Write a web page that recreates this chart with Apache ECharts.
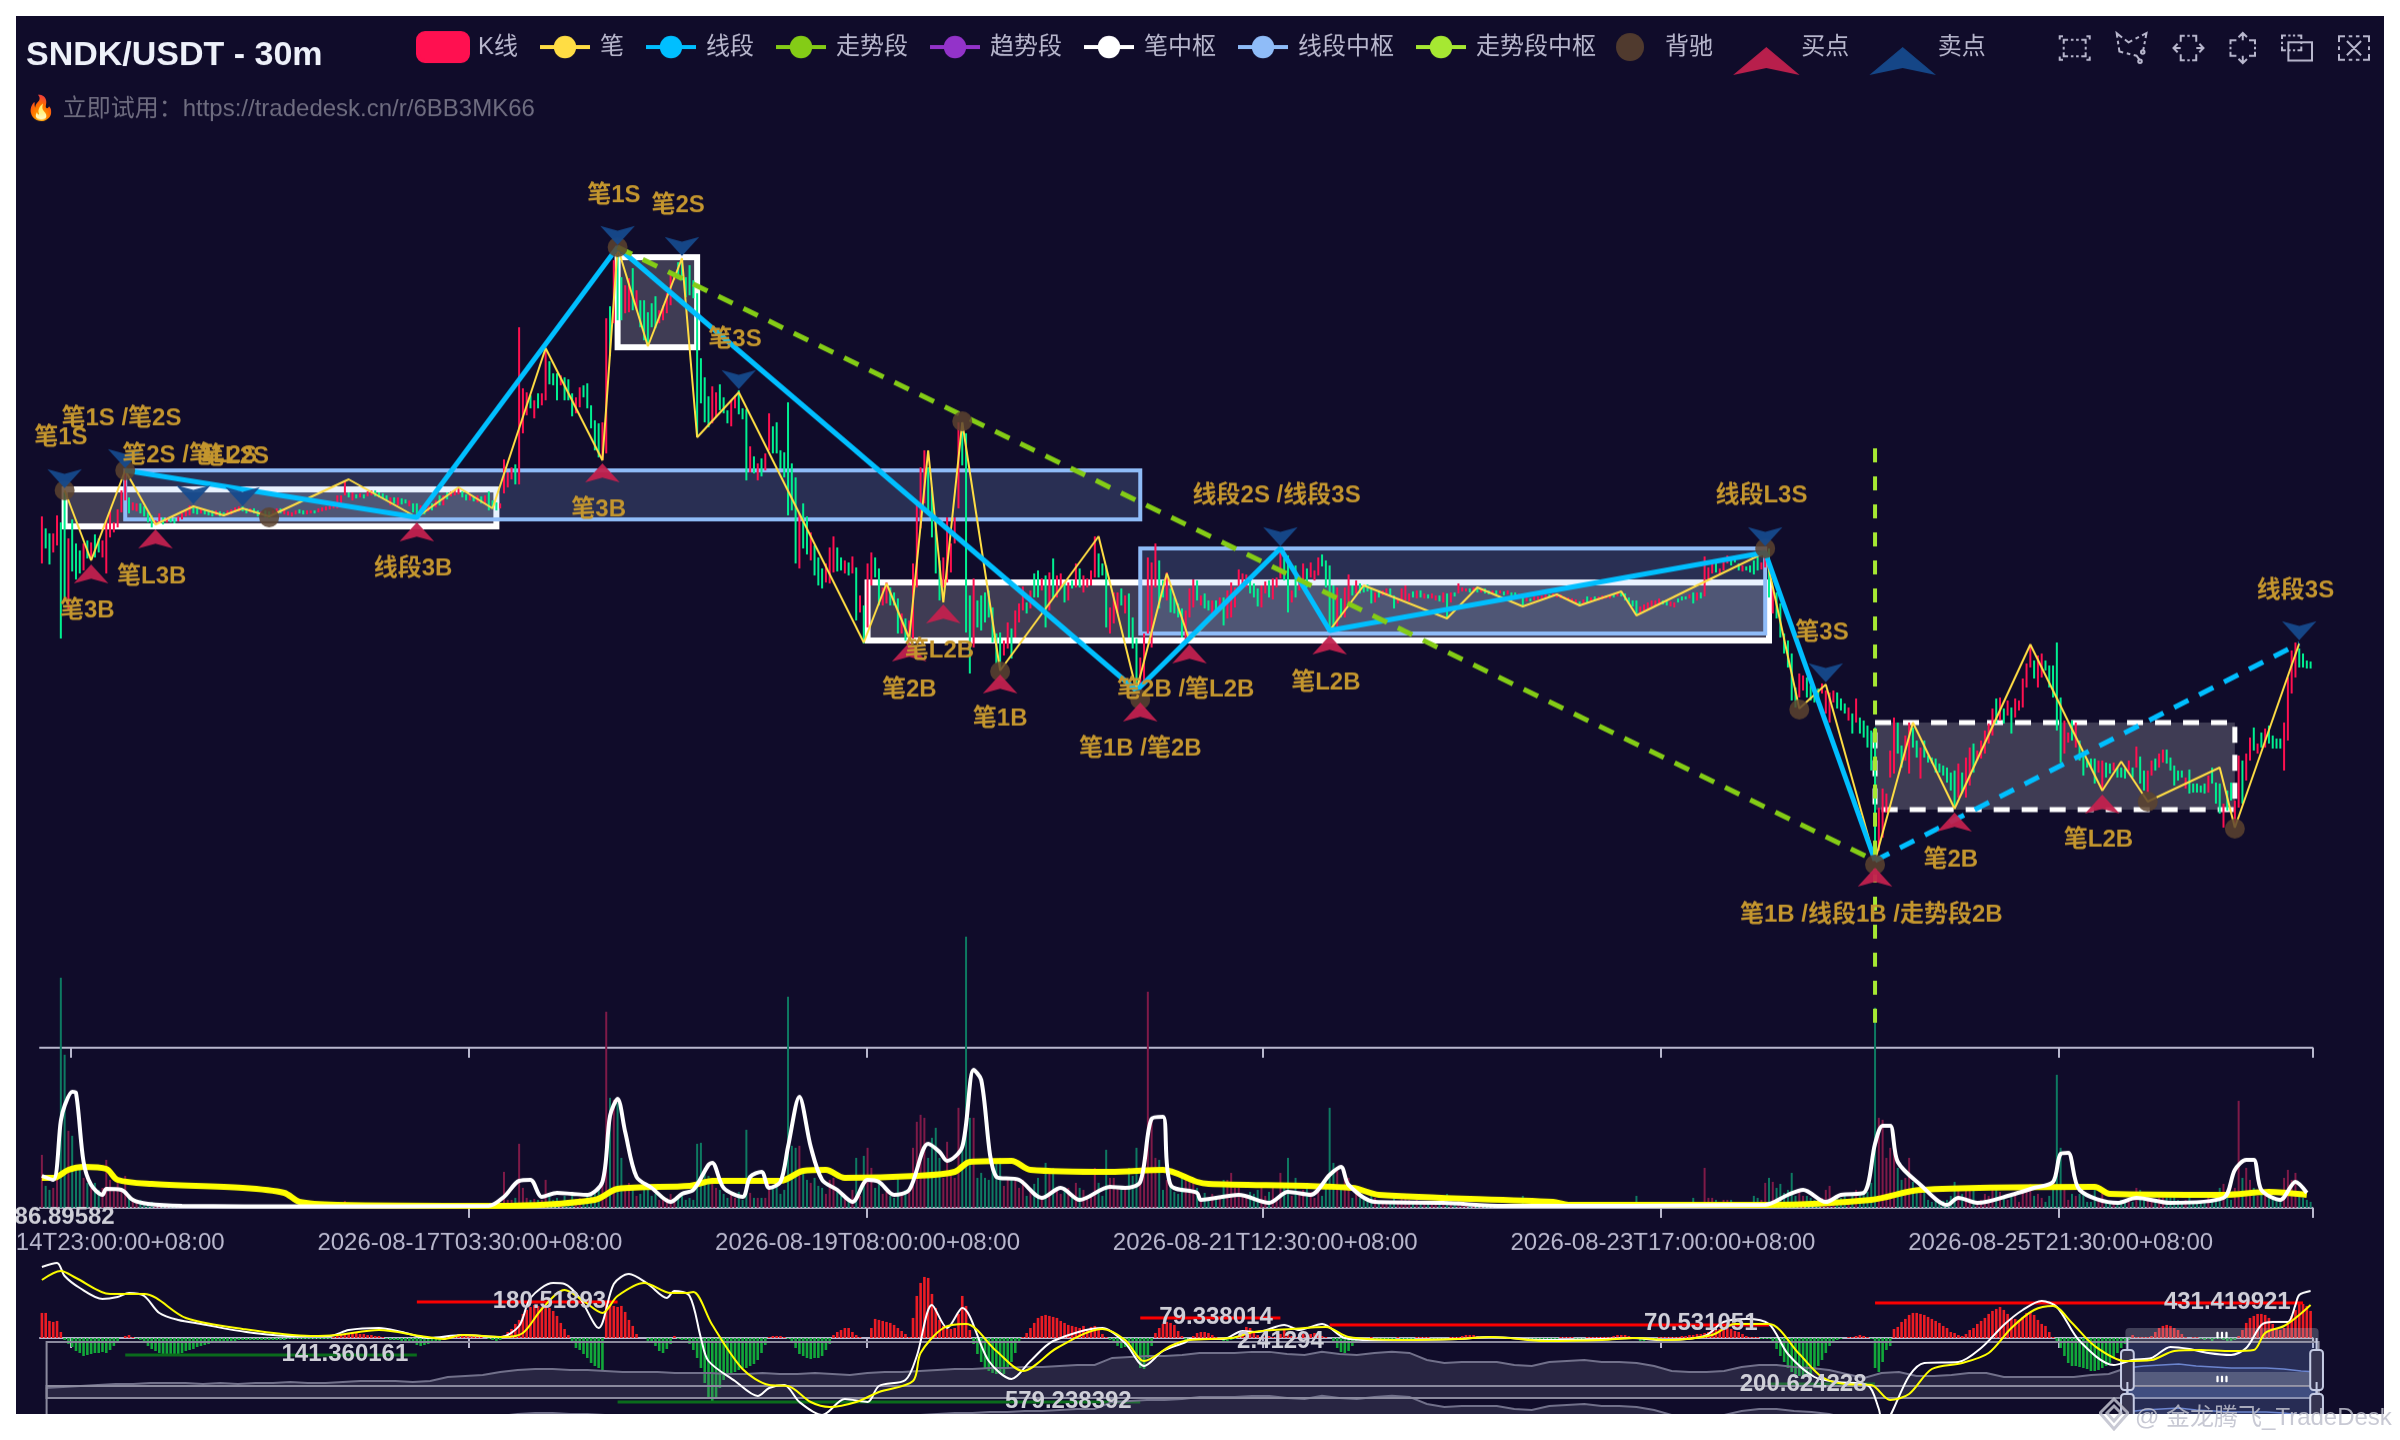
<!DOCTYPE html>
<html><head><meta charset="utf-8">
<script src="https://cdn.jsdelivr.net/npm/echarts@6/dist/echarts.min.js"></script>
<style>
html,body{margin:0;padding:0;background:#fff;width:2400px;height:1440px;overflow:hidden}
#chart{position:absolute;left:16px;top:16px;width:1184px;height:698.5px;transform:scale(2);transform-origin:0 0}
#mark{position:absolute;left:2099px;top:1397px;height:34px;display:flex;align-items:center;font:24px 'Liberation Sans','Noto Sans CJK SC',sans-serif;color:rgba(190,192,205,.85);white-space:nowrap}
#mark svg{margin-right:6px}
</style></head><body>
<div id="chart"></div>
<div id="mark"><svg width="30" height="34" viewBox="0 0 30 34"><path d="M15 2 29 16 15 32 1 16Z M15 9 22 16 15 24 8 16Z" fill="none" stroke="rgba(190,192,205,.85)" stroke-width="3"/></svg>@ 金龙腾飞_TradeDesk</div>
<script>
const titleText='SNDK/USDT - 30m';
const subText='🔥 立即试用：https://tradedesk.cn/r/6BB3MK66';
const legendNames=['K线','笔','线段','走势段','趋势段','笔中枢','线段中枢','走势段中枢','背驰','买点','卖点'];
const barCount=600, tickStart=8, tickEvery=105, firstBar=Date.UTC(2026,7,14,19,0);
const categories=Array.from({length:barCount},(_,i)=>new Date(firstBar+i*1800000).toISOString().slice(0,19)+'+08:00');

// open,close pairs, one candle per pair
const klinePairs=[
484,531,519,499,514,483,495,514,502,532,525,409,555,450,437,509,528,476,504,468,
497,474,477,504,507,489,487,505,513,490,509,495,490,507,474,527,510,537,515,525,
520,538,535,557,547,576,550,534,537,545,536,544,544,534,541,531,535,525,532,520,
523,527,524,534,530,523,525,530,531,525,529,524,526,531,528,534,531,537,532,542,
541,534,539,533,534,539,538,533,537,532,537,531,532,537,536,531,535,531,532,537,
533,538,535,540,536,541,541,536,539,534,535,539,539,534,537,531,532,536,537,530,
536,529,533,537,535,539,539,534,533,538,532,536,531,535,533,537,538,534,537,533,
533,537,534,537,537,534,535,539,536,540,537,541,538,542,539,544,539,552,544,552,
552,567,555,550,547,555,553,549,550,554,553,549,551,556,552,557,557,551,555,550,
554,549,552,547,542,550,550,544,542,550,549,543,548,544,541,547,544,535,544,529,
532,542,542,533,536,543,544,537,540,547,552,542,542,552,555,548,551,556,552,557,
553,560,556,550,553,547,547,553,551,546,545,552,551,544,544,552,556,537,547,539,
545,537,539,544,554,588,560,575,568,580,583,563,563,720,614,659,632,655,652,639,
629,647,654,639,642,654,647,699,686,663,674,662,674,647,662,672,670,647,668,647,
654,631,634,650,640,660,662,650,664,639,642,619,627,597,624,590,587,625,594,729,
741,691,724,787,800,727,770,727,734,762,735,769,779,737,737,757,747,720,747,707,
735,702,744,720,751,719,724,737,727,742,734,754,742,775,767,775,785,772,789,767,
770,750,782,752,767,749,754,610,689,644,670,625,651,620,624,661,630,655,663,637,
650,634,637,624,621,647,639,652,657,633,639,628,638,567,575,601,591,574,567,584,
589,571,577,594,597,634,621,594,625,594,597,579,595,570,645,532,584,537,570,484,
479,534,544,499,531,493,487,515,502,472,490,462,479,459,465,484,464,500,475,511,
500,476,490,477,474,487,485,472,474,491,480,427,435,452,442,404,420,484,462,495,
490,470,479,442,442,460,444,465,460,442,455,442,449,414,414,434,429,407,407,427,
409,484,460,545,519,580,544,597,580,537,560,510,529,474,487,447,460,490,465,530,
475,504,504,530,539,625,625,582,614,415,452,374,400,469,447,420,452,417,455,425,
457,430,440,405,414,384,415,377,392,407,399,425,419,389,410,437,425,444,437,461,
445,434,439,457,474,450,477,450,457,469,472,420,437,475,489,450,450,472,460,474,
465,445,447,465,467,459,460,484,479,460,455,472,460,469,462,477,470,511,494,470,
484,472,482,420,414,440,424,455,434,455,459,442,434,452,454,410,430,399,409,357,
357,390,364,414,414,490,400,485,460,504,487,439,467,450,447,475,459,435,450,434,
444,430,439,410,407,437,430,459,440,468,467,447,442,452,454,439,447,437,432,447,
447,435,440,450,450,422,429,457,430,465,440,460,457,478,459,474,460,473,470,454,
464,450,459,441,440,462,454,466,467,450,448,469,460,470,469,499,489,467,492,435,
445,457,482,450,457,472,467,484,479,460,470,485,467,477,472,490,493,481,487,460,
482,415,462,417,420,460,449,430,430,460,444,473,462,452,454,467,464,454,462,455,
463,456,460,444,445,455,457,450,452,457,452,459,459,452,452,439,444,449,447,459,
447,462,446,454,456,450,449,457,457,450,449,454,453,449,449,454,447,452,452,446,
445,455,454,429,445,455,455,451,454,464,456,460,456,459,459,455,457,460,460,455,
455,458,459,454,457,453,454,457,457,453,454,457,456,452,453,457,455,451,455,450,
451,454,454,441,446,450,449,446,447,451,448,451,449,452,450,453,453,450,451,454,
450,454,449,453,448,451,447,450,446,449,444,448,446,441,444,448,451,445,447,450,
451,447,447,451,448,452,449,452,449,453,454,450,451,455,456,451,454,447,450,443,
447,441,447,432,435,441,437,443,439,445,441,447,442,447,444,449,447,443,446,442,
441,446,440,445,449,445,451,447,451,448,449,453,455,444,447,455,455,449,451,491,
467,480,474,485,484,475,473,479,477,485,484,492,490,482,492,485,484,477,476,482,
481,477,482,475,487,473,490,477,478,485,480,492,499,450,434,460,455,429,444,410,
414,394,407,380,394,347,360,340,350,374,357,372,370,350,362,347,359,345,359,345,
354,364,334,357,325,355,345,357,355,339,349,337,344,334,327,340,334,314,325,349,
330,314,327,310,322,300,317,277,320,187,197,240,210,259,235,254,270,297,274,330,
325,294,302,280,287,312,274,325,320,300,307,290,269,300,307,290,292,285,290,284,
289,275,284,275,282,272,280,265,275,257,277,239,250,284,275,254,250,290,262,300,
304,275,287,297,289,307,294,317,304,324,312,339,349,324,327,350,339,324,332,347,
340,314,330,349,337,347,340,369,360,384,380,403,387,369,360,392,370,394,387,377,
382,360,382,350,405,317,350,285,294,327,305,315,327,307,300,325,307,287,294,272,
289,280,289,279,289,264,275,287,257,287,285,270,284,274,277,285,280,270,280,270,
279,269,277,287,280,270,280,301,291,264,277,257,255,277,272,287,289,277,280,294,
285,298,298,284,290,277,282,262,277,267,277,270,259,270,278,254,264,255,264,255,
262,255,264,254,255,272,280,264,265,244,264,234,220,244,257,237,265,247,220,247,
240,292,287,244,267,294,287,310,320,297,294,304,315,300,300,319,322,304,312,299,
309,299,309,299,277,325,307,370,354,397,370,405,399,380,394,380,387,379,386,379];
const opens=klinePairs.filter((_,i)=>i%2===0);
const closes=klinePairs.filter((_,i)=>i%2===1);

const volumes=[
53,22,18,20,28,230,153,77,72,40,42,30,25,20,25,18,20,48,28,20,
25,18,32,12,10,8,8,6,6,6,5,5,4,3,3,3,3,3,3,3,
3,2,2,2,2,2,2,2,2,2,2,2,2,2,2,2,2,2,2,2,
2,2,2,2,2,2,2,2,1,1,1,1,1,1,1,2,2,3,6,4,
7,3,3,2,2,2,2,2,2,2,2,2,3,2,2,2,2,3,4,5,
3,3,3,2,3,3,3,2,2,2,3,2,2,2,2,2,2,2,5,3,
3,3,36,8,8,10,64,20,10,8,9,8,8,28,14,8,10,6,12,8,
12,9,10,6,12,14,16,20,30,196,110,108,105,50,20,25,22,12,14,20,
18,12,14,8,8,10,14,6,10,12,8,10,8,64,65,40,32,24,20,18,
14,10,15,10,16,8,78,15,10,10,10,10,30,20,25,14,18,211,62,60,
62,36,28,25,30,22,20,14,28,30,16,12,10,10,18,50,12,52,60,40,
20,32,14,16,12,10,30,14,18,15,60,86,93,90,50,70,80,50,30,66,
32,30,100,60,271,90,90,30,35,30,28,48,45,50,22,30,30,27,20,28,
12,20,24,30,12,45,38,40,20,14,18,20,10,25,20,18,10,14,40,25,
12,58,30,30,22,18,20,40,32,60,30,50,216,90,50,48,18,28,24,16,
14,30,28,30,28,20,10,15,10,14,12,10,28,28,35,20,20,14,12,16,
14,18,22,12,16,22,10,35,20,50,12,30,15,18,20,16,10,18,12,26,
100,45,40,20,30,30,10,14,10,8,8,16,10,7,5,6,6,14,5,12,
14,8,6,8,6,5,4,5,5,5,8,14,8,4,9,3,3,3,3,4,
3,3,3,3,3,3,3,3,3,3,3,12,3,3,3,3,3,3,2,3,
3,3,3,2,3,3,4,3,5,3,3,3,3,3,3,3,4,3,5,6,
5,12,5,4,4,4,4,4,3,3,3,3,3,3,3,4,10,6,4,40,
10,10,8,6,8,8,8,6,6,5,5,5,12,10,8,25,30,26,20,24,
15,18,35,12,16,12,12,10,8,8,10,18,22,8,12,10,12,8,14,18,
12,14,16,25,200,90,88,50,60,70,40,28,30,50,26,20,22,18,8,6,
10,6,7,8,12,26,18,14,22,20,18,6,8,14,12,18,18,16,10,8,
14,12,6,16,20,24,12,14,10,6,12,20,133,60,20,8,14,12,14,16,
6,6,18,8,18,8,6,6,6,8,6,6,6,20,18,12,16,10,8,10,
10,10,10,14,8,6,8,14,5,5,5,6,12,8,14,20,24,12,8,20,
107,30,40,28,20,12,14,16,14,10,8,8,30,38,28,35,14,10,8,6];

const volFast=[[0,32],[3,28],[5,87],[6,102],[8,116],[9,115],[11,46],[13,23],[16,13],[17,19],[21,18],[24,8],[28,4],[37,2],[70,1.5],[118,2],[122,11],[126,27],[129,28],[132,11],[136,15],[140,14],[144,13],[148,26],[150,92],[152,109],[154,76],[157,31],[161,20],[166,6],[169,14],[172,18],[176,43],[177,45],[180,20],[185,11],[187,31],[190,36],[192,20],[195,26],[197,61],[200,111],[203,61],[206,28],[210,18],[214,6],[218,28],[221,26],[225,13],[229,18],[234,64],[237,56],[239,47],[243,61],[246,138],[248,128],[252,31],[258,28],[264,10],[269,20],[274,8],[282,21],[286,20],[290,26],[293,89],[296,91],[298,23],[305,15],[306,8],[316,13],[324,5],[329,16],[335,13],[340,33],[343,41],[345,23],[352,6],[370,5],[386,2],[455,3],[461,13],[465,18],[471,6],[475,13],[481,15],[484,64],[486,82],[488,82],[490,46],[496,23],[503,3],[506,10],[511,5],[520,13],[526,20],[531,26],[533,54],[535,55],[538,18],[548,5],[553,10],[562,5],[576,10],[579,38],[582,48],[584,48],[586,18],[591,8],[595,26],[598,15]];
const volSlow=[[0,30],[3,30],[7,38],[11,41],[17,39],[20,28],[29,24],[53,20],[64,15],[68,6],[78,3],[120,2],[146,8],[152,19],[171,22],[177,27],[195,27],[201,37],[207,38],[212,30],[231,32],[241,36],[245,46],[256,47],[261,38],[282,36],[296,38],[305,26],[308,24],[346,20],[353,13],[399,6],[403,3],[455,3],[483,8],[496,18],[542,21],[546,14],[576,13],[588,16],[598,13]];

const macdHist=[
25,25,17,16,17,6,-2,-6,-9,-13,-15,-18,-17,-16,-15,-15,-14,-15,-12,-8,-5,
0,2,3,1,
-1,-2,-5,-8,-11,-13,-15,-17,-18,-18,-17,-16,-15,-13,-12,-11,-9,-8,-7,-6,-5,-5,-4,-4,-4,-3,
-3,-2,-2,-2,-2,-2,-2,-2,-2,-2,-2,-2,-2,-2,-1,-1,-1,-1,-1,-1,-1,-1,-1,-1,-1,-1,
1,2,3,4,5,5,5,4,4,3,3,2,2,1,
-1,-2,-2,-2,-3,-3,-4,-4,-7,-8,-7,-6,-5,-4,-3,-1,
1,2,3,4,4,4,3,3,2,2,0,-1,-2,-3,-2,
3,6,9,14,18,24,28,31,33,32,31,32,30,27,22,15,9,3,
-3,-10,-12,-16,-20,-25,-28,-30,-33,
36,33,32,31,32,26,18,12,4,0,0,
-3,-5,-8,-13,-15,-11,-6,2,-1,-2,
-2,-6,-12,-20,-30,-45,-60,-63,-60,-50,-42,-38,-36,-34,-32,-30,-30,-28,-26,-22,-15,-7,
1,2,2,2,1,-1,
-5,-10,-16,-18,-20,-21,-20,-20,-18,-12,-6,
3,6,8,10,10,6,3,1,0,0,
10,19,18,17,16,15,13,10,7,4,1,
20,42,55,61,60,44,30,18,12,9,9,10,24,42,32,8,
-6,-16,-24,-30,-33,-35,-36,-34,-36,-30,-24,-15,-5,1,
5,10,15,20,22,23,22,21,20,17,15,13,12,11,10,12,9,11,12,8,4,1,
-2,-5,-8,-10,-9,-10,-15,-18,-30,-31,-20,-8,
5,10,14,16,15,13,7,2,-2,-3,
2,5,6,6,5,3,1,-2,-4,-3,-2,-1,
3,7,11,10,7,3,1,1,2,1,1,4,9,5,2,1,3,4,3,4,5,3,2,1,0,
-5,-10,-14,-15,-13,-8,-3,
-1,-1,-1,1,-1,-1,-2,-2,-1,-1,1,-1,-1,-1,-1,1,1,1,1,-1,-1,-1,-1,-1,1,1,
1,2,3,3,3,2,1,1,1,1,1,1,1,-1,-1,-1,-1,-1,
-1,-2,-3,-3,-2,-1,
-1,-1,-1,1,1,1,1,-1,-1,-1,1,1,1,1,1,1,
1,2,3,3,3,2,1,-1,-3,-3,-2,-1,-1,1,1,1,1,1,
1,2,2,3,3,4,4,5,6,8,9,9,10,10,9,7,6,4,2,1,1,1,-1,-1,-1,
-5,-11,-18,-24,-30,-34,-36,-38,-38,-38,-36,-33,-28,-22,-15,-8,-4,-2,-1,0,1,
1,2,3,2,1,-1,
-30,-34,-24,-12,-8,
9,11,16,19,23,25,25,24,23,21,19,17,15,12,10,6,5,3,2,
4,8,10,14,17,20,24,27,29,31,28,24,20,19,18,21,25,26,23,18,14,12,6,1,
-3,-10,-18,-25,-28,-28,-29,-30,-31,-33,-33,-32,-30,-28,-25,-20,-15,-10,-6,-2,
3,1,1,1,1,2,6,10,12,13,12,10,8,4,1,0,1,1,
-1,-2,-1,-3,-1,-1,-2,-5,-5,-2,2,8,
15,20,22,24,24,23,20,14,10,8,10,16,22,28,34,34,32,27];

const difLine=[[0,71],[4,75],[6,62],[10,50],[16,39],[20,41],[23,45],[27,42],[31,25],[36,18],[42,14],[54,6],[66,2],[76,2],[81,8],[89,10],[95,6],[102,0],[111,3],[121,1],[126,12],[129,40],[135,55],[138,54],[142,40],[147,10],[151,54],[155,64],[160,54],[165,40],[167,47],[171,42],[174,0],[176,-23],[183,-43],[189,-58],[192,-50],[196,-47],[200,-64],[206,-77],[212,-61],[218,-64],[221,-48],[228,-42],[231,-18],[235,33],[239,10],[243,30],[250,-23],[256,-41],[261,-23],[267,-3],[280,10],[286,-5],[291,-28],[296,-13],[302,-4],[303,-1],[312,-1],[317,7],[321,6],[328,13],[332,8],[338,14],[344,0],[351,-2],[374,-1],[382,1],[397,-2],[412,-1],[420,0],[427,-2],[439,2],[444,16],[450,19],[456,14],[461,-16],[468,-39],[474,-44],[482,-47],[485,-71],[486,-87],[493,-38],[497,-25],[506,-24],[512,-10],[518,13],[523,28],[528,37],[532,31],[538,-3],[547,-27],[552,-22],[557,-20],[562,-9],[567,-11],[572,-15],[578,-17],[582,-10],[586,13],[589,16],[593,16],[595,33],[596,43],[599,47]];
const deaLine=[[0,58],[5,67],[9,60],[18,44],[27,44],[38,20],[53,9],[71,2],[78,3],[89,8],[100,2],[106,-1],[111,3],[122,1],[127,5],[132,29],[138,48],[143,37],[148,25],[152,42],[159,55],[166,45],[170,45],[172,46],[177,13],[185,-31],[192,-47],[197,-48],[203,-64],[208,-69],[215,-64],[221,-54],[230,-43],[232,-15],[238,10],[244,14],[252,-13],[259,-33],[268,-10],[280,9],[286,-2],[291,-23],[298,-8],[303,-2],[314,0],[320,6],[330,9],[339,11],[345,1],[359,-2],[374,-1],[383,1],[397,-3],[412,-2],[421,0],[429,-2],[441,3],[447,14],[456,14],[464,-16],[470,-39],[476,-46],[483,-47],[488,-62],[493,-56],[499,-31],[507,-25],[514,-15],[520,10],[526,28],[531,32],[536,15],[542,-8],[550,-23],[557,-22],[563,-13],[570,-12],[578,-13],[584,-12],[587,5],[592,12],[596,23],[599,33]];

const macdRedSpans=[[99,152,36],[290,327,20],[340,456,13],[484,597,35]];
const macdGreenSpans=[[22,99,-17],[152,290,-64],[456,484,-46]];
const macdTexts=[[134,37,'180.51893'],[80,-16,'141.360161'],[271,-63,'579.238392'],[310,21,'79.338014'],[327,-3,'2.41294'],[438,15,'70.531051'],[465,-46,'200.624228'],[577,36,'431.419921']];
const volumeTexts=[[6,-9,'86.89582']];

const penPoints=[[6,557],[13,487],[22,577],[30,523],[40,541],[48,532],[53,539],[60,531],[81,568],[99,530],[110,560],[119,539],[133,699],[148,587],[152,800],[160,701],[169,789],[173,610],[184,655],[217,405],[223,464],[229,409],[234,597],[238,445],[243,625],[253,377],[279,511],[289,357],[297,474],[303,407],[327,499],[340,417],[349,462],[371,429],[379,460],[391,441],[400,453],[406,442],[417,456],[421,432],[437,462],[455,495],[464,339],[471,363],[484,187],[494,325],[505,239],[525,403],[544,257],[549,286],[556,246],[575,280],[579,220],[596,404]];
const segmentPoints=[[22,577],[99,530],[152,800],[289,357],[327,499],[340,417],[455,495],[484,187]];
const segmentOpenPoints=[[484,187],[596,404]];
const trendPoints=[[152,800],[484,187]];
const trendCentrePoints=[[484,599],[484,17]];
const biCentres=[[6,120,558,521],[152,173,790,700],[218,456,465,407]];
const biCentresOpen=[[484,579,325,238]];
const segCentres=[[22,290,577,528],[290,455,499,414]];

const divergencePoints=[[6,557],[22,577],[60,530],[152,800],[243,626],[253,376],[290,348],[455,499],[464,338],[484,183],[556,246],[579,219]];
const buyPoints=[[13,485],[30,520],[99,527],[148,586],[238,445],[253,375],[290,347],[303,405],[340,414],[229,407],[484,182],[505,237],[544,255]];
const sellPoints=[[6,557],[22,577],[40,541],[53,539],[152,800],[169,789],[184,656],[327,499],[455,499],[471,363],[596,405]];
const signalTexts=[[5,610,'笔1S'],[21,629,'笔1S /笔2S'],[39,592,'笔2S /笔L2S'],[51,591,'笔L2S'],[29,471,'笔L3B'],[12,437,'笔3B'],[98,479,'线段3B'],[147,538,'笔3B'],[151,852,'笔1S'],[168,842,'笔2S'],[183,708,'笔3S'],[237,397,'笔L2B'],[229,358,'笔2B'],[253,329,'笔1B'],[302,358,'笔2B /笔L2B'],[290,299,'笔1B /笔2B'],[326,552,'线段2S /线段3S'],[339,365,'笔L2B'],[454,552,'线段L3S'],[470,415,'笔3S'],[504,188,'笔2B'],[543,208,'笔L2B'],[483,133,'笔1B /线段1B /走势段2B'],[595,457,'线段3S']];

const sliderShadow=[12,13,14,15,16,16,17,17,17,16,17,16,17,17,18,17,17,18,19,19,19,18,19,23,24,25,28,30,31,31,30,30,29,28,28,28,27,27,27,26,26,27,26,26,27,26,25,27,28,28,29,30,31,31,32,32,33,33,34,35,35,42,43,44,44,45,47,47,47,48,48,46,45,48,46,45,47,48,47,40,37,38,38,38,35,34,38,39,40,38,38,37,34,29,28,28,29,33,35,35,33,32,30,26,22,27,28,24,24,25,27,27,23,23,23,23,23,25,26,32,34,35,36,34,33,32,32,32,31,29,28];

const font="'Liberation Sans','Noto Sans CJK SC',sans-serif";
const up='#ff1050', down='#00f090';
const gridWidth=1136.25;
const tickOn=i=>(i-tickStart)%tickEvery===0;
const axisCommon=(gridIndex,extra)=>Object.assign({type:'category',gridIndex,data:categories,
  axisLine:{show:true,onZero:true,lineStyle:{color:'#B9B8CE',width:1}},
  axisTick:{show:true,interval:tickOn,length:5,lineStyle:{color:'#B9B8CE'}},
  axisLabel:{show:false,interval:tickOn},splitLine:{show:false}},extra||{});
const areaItems=(rows,style)=>rows.map(r=>[{coord:[r[0],r[2]],itemStyle:style},{coord:[r[1],r[3]]}]);
const textSeries=(rows,xi,color,size,zz)=>({type:'scatter',xAxisIndex:xi,yAxisIndex:xi,data:rows,symbolSize:1,clip:false,silent:true,z:zz,
  itemStyle:{color:'transparent',opacity:1},label:{show:true,position:'inside',color,fontSize:size,fontWeight:'bold',fontFamily:font,opacity:1,formatter:p=>p.data[2]}});
const spanSeries=(rows,color)=>rows.map(r=>({type:'line',xAxisIndex:2,yAxisIndex:2,data:[[r[0],r[2]],[r[1],r[2]]],symbol:'none',silent:true,z:3,lineStyle:{color,width:1.5}}));
const lineSeries=(name,data,color,width,extra)=>Object.assign({name,type:'line',data,symbol:'circle',showSymbol:false,silent:true,z:4,itemStyle:{color},lineStyle:{color,width}},extra||{});
const sliderStyle={type:'slider',xAxisIndex:3,start:91.5,end:100,left:12,width:1136.5,height:29,showDetail:false,showDataShadow:true,filterMode:'none',
  borderColor:'#8b8a9e',handleSize:'110%',
  handleStyle:{color:'#353450',borderColor:'#C5CBE3',borderWidth:1},moveHandleStyle:{color:'#B0B6C3',opacity:.3},
  fillerColor:'rgba(135,175,255,.2)',
  dataBackground:{lineStyle:{color:'#71708A',width:1,opacity:1},areaStyle:{color:'#71708A',opacity:.25}},
  selectedDataBackground:{lineStyle:{color:'#87A7FF',width:.7,opacity:.7},areaStyle:{color:'#87A7FF',opacity:.08}}};

const chart=echarts.init(document.getElementById('chart'),'dark',{devicePixelRatio:2,width:1184,height:698.5});
chart.setOption({
  animation:false,
  backgroundColor:'#100C2A',
  textStyle:{fontFamily:font},
  title:{text:titleText,subtext:subText,left:0,top:6.5,itemGap:12,
    textStyle:{color:'#EEF1FA',fontSize:17,fontWeight:'bold',fontFamily:font},
    subtextStyle:{color:'#6f6d80',fontSize:12,fontFamily:font}},
  legend:{data:legendNames,left:195,top:2.5,itemGap:10,itemWidth:25,itemHeight:14,
    textStyle:{color:'#B9B8CE',fontSize:12,fontFamily:font},lineStyle:{type:'solid',width:2}},
  toolbox:{right:-10,top:-9,itemSize:15,itemGap:8.5,iconStyle:{borderColor:'#B9B8CE'},
    feature:{brush:{type:['rect','polygon','lineX','lineY','keep','clear']}}},
  brush:{xAxisIndex:'all',brushLink:'all',toolbox:['rect','polygon','lineX','lineY','keep','clear']},
  grid:[
    {left:12,width:gridWidth,top:42,height:473.5,outerBoundsMode:'none'},
    {left:12,width:gridWidth,top:457,height:138.5,outerBoundsMode:'none'},
    {left:12,width:gridWidth,top:617,height:85,outerBoundsMode:'none'},
    {left:15,width:1133,top:-60,height:20,outerBoundsMode:'none'}],
  xAxis:[
    axisCommon(0),
    axisCommon(1,{axisLabel:{show:true,interval:tickOn,color:'#B9B8CE',fontSize:12,margin:11.5,hideOverlap:false,fontFamily:font}}),
    axisCommon(2),
    {type:'category',gridIndex:3,show:false,data:sliderShadow.map((_,i)=>i)}],
  yAxis:[
    {type:'value',gridIndex:0,min:0,max:947,show:false,splitLine:{show:false}},
    {type:'value',gridIndex:1,min:0,max:277,show:false,splitLine:{show:false}},
    {type:'value',gridIndex:2,min:-83,max:87,show:false,splitLine:{show:false}},
    {type:'value',gridIndex:3,show:false,scale:true,splitLine:{show:false}}],
  dataZoom:[
    Object.assign({},sliderStyle,{top:655.5}),
    Object.assign({},sliderStyle,{top:677.5})],
  series:[
    {type:'line',xAxisIndex:3,yAxisIndex:3,data:sliderShadow,symbol:'none',silent:true,lineStyle:{opacity:0}},
    {name:'K线',type:'candlestick',data:opens.map((o,i)=>[o,closes[i],Math.min(o,closes[i]),Math.max(o,closes[i])]),barWidth:1,z:3,silent:true,
     itemStyle:{color:up,color0:down,borderColor:up,borderColor0:down,borderWidth:1}},
    lineSeries('笔',penPoints,'#ffdd44',1,{z:5}),
    lineSeries('线段',segmentPoints,'#00bfff',2.5,{z:6}),
    lineSeries('线段',segmentOpenPoints,'#00bfff',2.5,{z:6,lineStyle:{color:'#00bfff',width:2.5,type:[8,6]}}),
    lineSeries('走势段',trendPoints,'#84cc16',2.5,{z:6,lineStyle:{color:'#84cc16',width:2.5,type:[8,6]}}),
    lineSeries('趋势段',[],'#9333c9',2),
    lineSeries('笔中枢',[],'#ffffff',2,{z:2,markArea:{silent:true,z:1,data:areaItems(biCentres,{color:'rgba(255,255,255,.2)',borderColor:'#fff',borderWidth:3}).concat(areaItems(biCentresOpen,{color:'rgba(255,255,255,.2)',borderColor:'#fff',borderWidth:2.5,borderType:[8,6]}))}}),
    lineSeries('线段中枢',[],'#8fbcf8',2,{z:2,markArea:{silent:true,z:1,data:areaItems(segCentres,{color:'rgba(143,188,248,.2)',borderColor:'#8fbcf8',borderWidth:2})}}),
    lineSeries('走势段中枢',trendCentrePoints,'#a6e832',2,{z:6,clip:false,lineStyle:{color:'#a6e832',width:2,type:[7,7]}}),
    {name:'背驰',type:'scatter',data:divergencePoints,symbol:'circle',symbolSize:10,z:7,silent:true,itemStyle:{color:'#5c432f',opacity:.85}},
    {name:'买点',type:'scatter',data:buyPoints,symbol:'arrow',symbolSize:[13,9.5],symbolOffset:[0,'10%'],z:8,silent:true,itemStyle:{color:'#c2214e',opacity:.95}},
    {name:'卖点',type:'scatter',data:sellPoints,symbol:'arrow',symbolRotate:180,symbolSize:[13,9.5],symbolOffset:[0,'-12%'],z:8,silent:true,itemStyle:{color:'#164a8c',opacity:.95}},
    textSeries(signalTexts,0,'#c4962e',12,9),
    {type:'bar',xAxisIndex:1,yAxisIndex:1,barWidth:1,z:1,silent:true,
     data:volumes.map((v,i)=>({value:v,itemStyle:{color:closes[i]>=opens[i]?'#7f1a48':'#0e7a62'}}))},
    {type:'line',xAxisIndex:1,yAxisIndex:1,data:volFast,smooth:.3,symbol:'none',z:4,silent:true,lineStyle:{color:'#fff',width:2}},
    {type:'line',xAxisIndex:1,yAxisIndex:1,data:volSlow,smooth:.3,symbol:'none',z:3,silent:true,lineStyle:{color:'#ffff00',width:3}},
    textSeries(volumeTexts,1,'#cfcfd8',12,9),
    {type:'bar',xAxisIndex:2,yAxisIndex:2,barWidth:1.3,z:2,silent:true,
     data:macdHist.map(v=>({value:v,itemStyle:{color:v>=0?'#ec1c24':'#12a83a'}}))},
    {type:'line',xAxisIndex:2,yAxisIndex:2,data:difLine,smooth:.3,symbol:'none',z:4,silent:true,lineStyle:{color:'#fff',width:1}},
    {type:'line',xAxisIndex:2,yAxisIndex:2,data:deaLine,smooth:.3,symbol:'none',z:4,silent:true,lineStyle:{color:'#ffff00',width:1}},
    ...spanSeries(macdRedSpans,'#ff0000'),
    ...spanSeries(macdGreenSpans,'#0a6b1c'),
    textSeries(macdTexts,2,'#cfcfd8',12,5)
  ]
});
</script></body></html>
